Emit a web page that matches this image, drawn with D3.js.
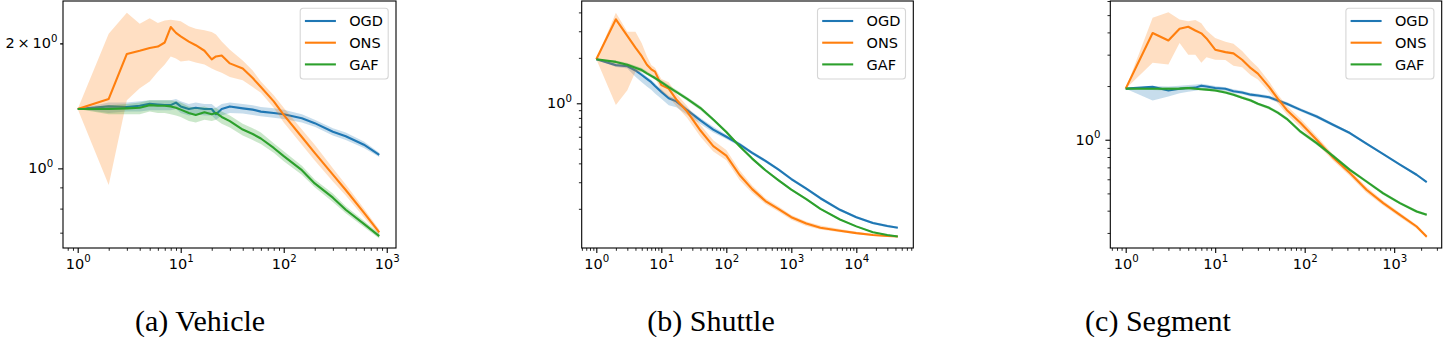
<!DOCTYPE html>
<html>
<head>
<meta charset="utf-8">
<script src="https://cdn.jsdelivr.net/npm/d3@7"></script>
<style>
  body { margin: 0; background: #fff; }
  svg { display: block; }
  .caption { font-family: "Liberation Serif", "Times New Roman", serif; font-size: 30px; fill: #000; }
</style>
</head>
<body>
<div id="chart"></div>
<script>
// ---- data ----
const seriesNames = ["OGD", "ONS", "GAF"];
const seriesColors = ["#1f77b4", "#ff7f0e", "#2ca02c"];

// (a) Vehicle
const vehicleSteps = [1, 2, 3, 4, 5, 6, 7, 8, 9, 10, 12, 14, 17, 20, 22, 25, 30, 40, 50, 60, 80, 100, 150, 200, 300, 400, 600, 846];
const vehicleOGD = [1.39, 1.41, 1.405, 1.415, 1.43, 1.425, 1.42, 1.42, 1.44, 1.41, 1.39, 1.40, 1.39, 1.39, 1.35, 1.39, 1.41, 1.395, 1.385, 1.37, 1.36, 1.35, 1.32, 1.285, 1.225, 1.195, 1.14, 1.077];
const vehicleOGDLow = [1.39, 1.36, 1.37, 1.37, 1.38, 1.38, 1.38, 1.38, 1.39, 1.36, 1.34, 1.35, 1.34, 1.34, 1.31, 1.34, 1.36, 1.355, 1.345, 1.335, 1.325, 1.315, 1.29, 1.26, 1.2, 1.17, 1.12, 1.065];
const vehicleOGDHigh = [1.39, 1.44, 1.44, 1.45, 1.46, 1.46, 1.46, 1.46, 1.47, 1.45, 1.43, 1.44, 1.43, 1.43, 1.40, 1.43, 1.44, 1.43, 1.42, 1.405, 1.395, 1.385, 1.35, 1.31, 1.25, 1.22, 1.16, 1.09];
const vehicleONS = [1.39, 1.47, 1.886, 1.92, 1.95, 1.965, 2.01, 2.19, 2.12, 2.08, 2.02, 1.98, 1.92, 1.83, 1.86, 1.87, 1.79, 1.74, 1.65, 1.57, 1.45, 1.345, 1.19, 1.09, 0.966, 0.887, 0.782, 0.701];
const vehicleONSLow = [1.39, 0.912, 1.46, 1.56, 1.62, 1.71, 1.78, 1.86, 1.84, 1.81, 1.82, 1.80, 1.78, 1.74, 1.72, 1.70, 1.66, 1.63, 1.57, 1.52, 1.40, 1.29, 1.14, 1.045, 0.93, 0.86, 0.763, 0.69];
const vehicleONSHigh = [1.39, 2.11, 2.37, 2.23, 2.30, 2.24, 2.27, 2.28, 2.27, 2.26, 2.20, 2.17, 2.15, 2.13, 2.10, 2.02, 1.93, 1.82, 1.72, 1.62, 1.50, 1.40, 1.24, 1.14, 1.0, 0.915, 0.80, 0.712];
const vehicleGAF = [1.39, 1.39, 1.395, 1.40, 1.42, 1.415, 1.415, 1.41, 1.40, 1.385, 1.36, 1.345, 1.365, 1.35, 1.36, 1.33, 1.30, 1.24, 1.21, 1.18, 1.12, 1.07, 0.99, 0.92, 0.85, 0.795, 0.735, 0.687];
const vehicleGAFLow = [1.39, 1.35, 1.35, 1.35, 1.37, 1.36, 1.36, 1.35, 1.34, 1.33, 1.30, 1.29, 1.31, 1.30, 1.31, 1.28, 1.255, 1.20, 1.17, 1.145, 1.09, 1.04, 0.965, 0.9, 0.83, 0.78, 0.722, 0.678];
const vehicleGAFHigh = [1.39, 1.42, 1.43, 1.44, 1.46, 1.46, 1.46, 1.46, 1.45, 1.44, 1.41, 1.40, 1.41, 1.39, 1.40, 1.37, 1.34, 1.28, 1.25, 1.22, 1.15, 1.10, 1.015, 0.94, 0.87, 0.81, 0.748, 0.697];

// (b) Shuttle
const shuttleSteps = [1, 2, 3, 4, 5, 6, 7, 8, 10, 13, 17, 25, 40, 63, 100, 160, 250, 400, 630, 1000, 1700, 2800, 5600, 10000, 18000, 30000, 43500];
const shuttleOGD = [1.956, 1.79, 1.76, 1.65, 1.54, 1.45, 1.38, 1.30, 1.19, 1.08, 1.03, 0.90, 0.77, 0.67, 0.60, 0.535, 0.47, 0.415, 0.365, 0.315, 0.272, 0.235, 0.197, 0.176, 0.161, 0.154, 0.150];
const shuttleOGDLow = [1.956, 1.74, 1.70, 1.50, 1.38, 1.29, 1.23, 1.16, 1.07, 0.97, 0.94, 0.84, 0.73, 0.64, 0.58, 0.52, 0.458, 0.405, 0.357, 0.308, 0.266, 0.23, 0.193, 0.173, 0.158, 0.151, 0.148];
const shuttleOGDHigh = [1.956, 1.83, 1.80, 1.70, 1.60, 1.50, 1.43, 1.35, 1.24, 1.12, 1.07, 0.93, 0.80, 0.70, 0.62, 0.55, 0.482, 0.425, 0.373, 0.322, 0.278, 0.24, 0.201, 0.179, 0.164, 0.157, 0.152];
const shuttleONS = [1.956, 3.6, 2.8, 2.34, 2.05, 1.80, 1.68, 1.62, 1.32, 1.25, 1.06, 0.88, 0.66, 0.52, 0.45, 0.335, 0.27, 0.225, 0.20, 0.176, 0.16, 0.15, 0.143, 0.138, 0.134, 0.132, 0.131];
const shuttleONSLow = [1.956, 0.975, 1.22, 1.62, 1.62, 1.58, 1.54, 1.48, 1.2, 1.1, 0.96, 0.8, 0.6, 0.48, 0.42, 0.31, 0.255, 0.215, 0.192, 0.169, 0.154, 0.146, 0.14, 0.136, 0.132, 0.130, 0.130];
const shuttleONSHigh = [1.956, 3.98, 2.98, 2.98, 2.5, 2.05, 1.79, 1.72, 1.45, 1.38, 1.16, 0.96, 0.72, 0.57, 0.49, 0.36, 0.285, 0.235, 0.208, 0.182, 0.165, 0.155, 0.147, 0.141, 0.136, 0.133, 0.132];
const shuttleGAF = [1.956, 1.88, 1.80, 1.72, 1.66, 1.58, 1.52, 1.47, 1.38, 1.28, 1.19, 1.07, 0.93, 0.78, 0.645, 0.52, 0.43, 0.36, 0.31, 0.268, 0.232, 0.20, 0.17, 0.153, 0.14, 0.134, 0.131];
const shuttleGAFLow = [1.956, 1.84, 1.75, 1.67, 1.61, 1.54, 1.48, 1.43, 1.34, 1.24, 1.16, 1.04, 0.90, 0.76, 0.628, 0.508, 0.421, 0.353, 0.304, 0.263, 0.228, 0.197, 0.168, 0.151, 0.139, 0.133, 0.130];
const shuttleGAFHigh = [1.956, 1.92, 1.85, 1.77, 1.71, 1.63, 1.56, 1.51, 1.42, 1.32, 1.23, 1.10, 0.96, 0.80, 0.662, 0.532, 0.44, 0.367, 0.316, 0.273, 0.236, 0.203, 0.172, 0.155, 0.142, 0.135, 0.132];

// (c) Segment
const segmentSteps = [1, 2, 3, 4, 5, 6, 7, 8, 10, 13, 16, 20, 25, 30, 40, 50, 63, 90, 136, 210, 320, 490, 755, 1160, 1780, 2310];
const segmentOGD = [1.934, 1.98, 1.89, 1.93, 1.95, 1.96, 2.01, 1.99, 1.95, 1.93, 1.87, 1.84, 1.79, 1.77, 1.73, 1.66, 1.59, 1.47, 1.35, 1.21, 1.09, 0.95, 0.83, 0.725, 0.636, 0.578];
const segmentOGDLow = [1.934, 1.66, 1.75, 1.82, 1.86, 1.88, 1.92, 1.92, 1.90, 1.88, 1.83, 1.80, 1.75, 1.73, 1.69, 1.62, 1.555, 1.44, 1.32, 1.185, 1.07, 0.935, 0.82, 0.716, 0.628, 0.572];
const segmentOGDHigh = [1.934, 2.0, 1.99, 2.01, 2.03, 2.04, 2.06, 2.04, 2.0, 1.97, 1.92, 1.88, 1.83, 1.81, 1.77, 1.70, 1.63, 1.50, 1.38, 1.235, 1.11, 0.965, 0.84, 0.734, 0.644, 0.585];
const segmentONS = [1.934, 3.97, 3.6, 4.19, 4.3, 4.1, 3.95, 3.7, 3.2, 3.1, 3.05, 2.81, 2.52, 2.35, 1.98, 1.70, 1.47, 1.24, 1.0, 0.789, 0.65, 0.524, 0.441, 0.379, 0.326, 0.286];
const segmentONSLow = [1.934, 2.7, 2.64, 3.49, 3.0, 3.0, 2.7, 2.9, 2.81, 2.8, 2.6, 2.55, 2.3, 2.18, 1.85, 1.60, 1.39, 1.17, 0.95, 0.76, 0.625, 0.505, 0.428, 0.368, 0.318, 0.28];
const segmentONSHigh = [1.934, 4.83, 5.19, 4.72, 4.62, 4.7, 4.5, 4.1, 3.72, 3.55, 3.45, 3.15, 2.78, 2.55, 2.12, 1.80, 1.55, 1.31, 1.05, 0.82, 0.675, 0.545, 0.455, 0.39, 0.333, 0.292];
const segmentGAF = [1.934, 1.93, 1.93, 1.935, 1.95, 1.93, 1.92, 1.91, 1.89, 1.84, 1.79, 1.72, 1.66, 1.59, 1.51, 1.42, 1.31, 1.11, 0.958, 0.806, 0.678, 0.583, 0.50, 0.441, 0.396, 0.379];
const segmentGAFLow = [1.934, 1.90, 1.89, 1.90, 1.91, 1.90, 1.89, 1.88, 1.86, 1.81, 1.76, 1.69, 1.63, 1.56, 1.48, 1.39, 1.28, 1.085, 0.935, 0.79, 0.665, 0.572, 0.49, 0.433, 0.39, 0.373];
const segmentGAFHigh = [1.934, 1.96, 1.97, 1.97, 1.99, 1.97, 1.96, 1.95, 1.93, 1.88, 1.83, 1.76, 1.70, 1.62, 1.54, 1.45, 1.34, 1.135, 0.98, 0.825, 0.692, 0.595, 0.51, 0.449, 0.403, 0.386];

// ---- layout ----
const W = 1446, H = 337;
const FONT = "DejaVu Sans, sans-serif";
const svg = d3.select("#chart").append("svg").attr("width", W).attr("height", H);

const panels = [
  {
    caption: "(a) Vehicle", captionX: 200,
    left: 63, right: 396, top: 1, bottom: 248,
    xDomain: [0.72, 1230], yDomain: [0.643, 2.53],
    xMajor: [1, 10, 100, 1000],
    // thin spaces around the times sign, like mathtext
    yLabels: [[1, null], [2, "2\u2009\u00d7\u200910"]],
    steps: vehicleSteps,
    mean: [vehicleOGD, vehicleONS, vehicleGAF],
    low: [vehicleOGDLow, vehicleONSLow, vehicleGAFLow],
    high: [vehicleOGDHigh, vehicleONSHigh, vehicleGAFHigh]
  },
  {
    caption: "(b) Shuttle", captionX: 711,
    left: 581.7, right: 913.3, top: 1, bottom: 248,
    xDomain: [0.596, 75300], yDomain: [0.110, 4.76],
    xMajor: [1, 10, 100, 1000, 10000],
    yLabels: [[1, null]],
    steps: shuttleSteps,
    mean: [shuttleOGD, shuttleONS, shuttleGAF],
    low: [shuttleOGDLow, shuttleONSLow, shuttleGAFLow],
    high: [shuttleOGDHigh, shuttleONSHigh, shuttleGAFHigh]
  },
  {
    caption: "(c) Segment", captionX: 1158,
    left: 1110.3, right: 1441.7, top: 1, bottom: 248,
    xDomain: [0.673, 3396], yDomain: [0.247, 6.0],
    xMajor: [1, 10, 100, 1000],
    yLabels: [[1, null]],
    steps: segmentSteps,
    mean: [segmentOGD, segmentONS, segmentGAF],
    low: [segmentOGDLow, segmentONSLow, segmentGAFLow],
    high: [segmentOGDHigh, segmentONSHigh, segmentGAFHigh]
  }
];

// minor ticks 2..9 per decade inside a domain
function minorTicks(domain) {
  let out = [];
  for (let e = Math.floor(Math.log10(domain[0])) - 1; e <= Math.ceil(Math.log10(domain[1])); e++) {
    for (let m = 2; m <= 9; m++) {
      let v = m * Math.pow(10, e);
      if (v >= domain[0] && v <= domain[1]) out.push(v);
    }
  }
  return out;
}

function supText(textSel, base, exp) {
  textSel.text(null)
    .attr("font-family", FONT)
    .attr("font-size", 14.5)
    .attr("fill", "#000");
  textSel.append("tspan").text(base);
  textSel.append("tspan").attr("dy", -6.5).attr("font-size", 10.2).text(exp);
}

panels.forEach((p, pi) => {
  let g = svg.append("g");

  let x = d3.scaleLog().domain(p.xDomain).range([p.left, p.right]);
  let y = d3.scaleLog().domain(p.yDomain).range([p.bottom, p.top]);

  let clipId = "clip" + pi;
  svg.append("clipPath").attr("id", clipId)
    .append("rect")
    .attr("x", p.left).attr("y", p.top)
    .attr("width", p.right - p.left).attr("height", p.bottom - p.top);

  let plot = g.append("g").attr("clip-path", `url(#${clipId})`);

  let area = d3.area()
    .x(d => x(d.t))
    .y0(d => y(d.lo))
    .y1(d => y(d.hi));
  let line = d3.line()
    .x(d => x(d.t))
    .y(d => y(d.v));

  seriesNames.forEach((name, si) => {
    let rows = p.steps.map((t, i) => ({
      t: t, v: p.mean[si][i], lo: p.low[si][i], hi: p.high[si][i]
    }));
    plot.append("path")
      .datum(rows)
      .attr("d", area)
      .attr("fill", seriesColors[si])
      .attr("fill-opacity", 0.25)
      .attr("stroke", "none");
    plot.append("path")
      .datum(rows)
      .attr("d", line)
      .attr("fill", "none")
      .attr("stroke", seriesColors[si])
      .attr("stroke-width", 2.1)
      .attr("stroke-linejoin", "round");
  });

  // x axis: minor then major
  g.append("g")
    .attr("transform", `translate(0,${p.bottom})`)
    .call(d3.axisBottom(x).tickValues(minorTicks(p.xDomain)).tickSize(2.8).tickFormat(""))
    .call(a => a.select(".domain").remove())
    .call(a => a.selectAll(".tick line").attr("stroke-width", 0.85));

  let gx = g.append("g")
    .attr("transform", `translate(0,${p.bottom})`)
    .call(d3.axisBottom(x).tickValues(p.xMajor).tickSize(4.9).tickPadding(5.5).tickFormat(""))
    .call(a => a.select(".domain").remove())
    .call(a => a.selectAll(".tick line").attr("stroke-width", 1.1));
  gx.selectAll(".tick text").each(function (d) {
    supText(d3.select(this), "10", Math.round(Math.log10(d)));
  });

  // y axis
  let yMinor = minorTicks(p.yDomain);
  g.append("g")
    .attr("transform", `translate(${p.left},0)`)
    .call(d3.axisLeft(y).tickValues(yMinor).tickSize(2.8).tickFormat(""))
    .call(a => a.select(".domain").remove())
    .call(a => a.selectAll(".tick line").attr("stroke-width", 0.85));

  let gy = g.append("g")
    .attr("transform", `translate(${p.left},0)`)
    .call(d3.axisLeft(y).tickValues(p.yLabels.map(d => d[0])).tickSize(4.9).tickPadding(4.9).tickFormat(""))
    .call(a => a.select(".domain").remove())
    .call(a => a.selectAll(".tick line").attr("stroke-width", 1.1));
  gy.selectAll(".tick").each(function (d, i) {
    let lab = p.yLabels[i];
    let tickSel = d3.select(this);
    // minor-labelled ticks keep the short thin mark
    if (lab[1] !== null) tickSel.select("line").attr("x2", -2.8).attr("stroke-width", 0.85);
    supText(tickSel.select("text").attr("dy", "0.3em"), lab[1] === null ? "10" : lab[1], "0");
    if (lab[1] !== null) tickSel.select("text").attr("x", -5.5);
  });

  // frame
  g.append("rect")
    .attr("x", p.left).attr("y", p.top)
    .attr("width", p.right - p.left).attr("height", p.bottom - p.top)
    .attr("fill", "none").attr("stroke", "#000").attr("stroke-width", 1.1);

  // legend
  let lw = 88, lh = 70.7;
  let lx = p.right - 7.8 - lw, ly = p.top + 7.3;
  let legend = g.append("g").attr("transform", `translate(${lx},${ly})`);
  legend.append("rect")
    .attr("width", lw).attr("height", lh)
    .attr("rx", 3).attr("ry", 3)
    .attr("fill", "#fff").attr("fill-opacity", 0.8)
    .attr("stroke", "#d6d6d6").attr("stroke-width", 1.1);
  seriesNames.forEach((name, si) => {
    let ry = 12.7 + si * 21.7;
    legend.append("line")
      .attr("x1", 4.7).attr("x2", 35.7)
      .attr("y1", ry).attr("y2", ry)
      .attr("stroke", seriesColors[si]).attr("stroke-width", 2.1);
    legend.append("text")
      .attr("x", 49).attr("y", ry).attr("dy", "0.36em")
      .attr("font-family", FONT).attr("font-size", 14.5)
      .text(name);
  });

  // caption
  svg.append("text")
    .attr("class", "caption")
    .attr("x", p.captionX).attr("y", 331)
    .attr("text-anchor", "middle")
    .text(p.caption);
});
</script>
</body>
</html>
